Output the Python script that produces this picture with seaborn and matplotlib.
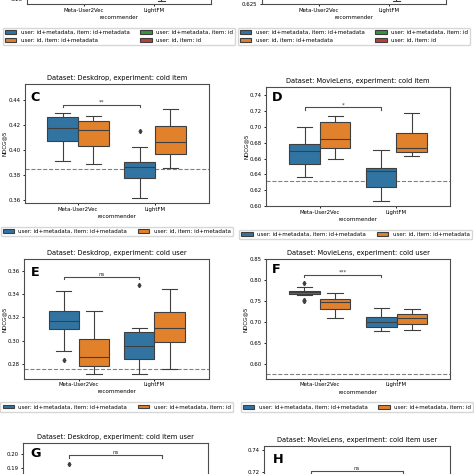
import numpy as np
import pandas as pd
import matplotlib
matplotlib.use("Agg")
import matplotlib.pyplot as plt
from matplotlib.ticker import MultipleLocator
import seaborn as sns

# --- labels ---
RECS = ["Meta-User2Vec", "LightFM"]
UM_IM = "user: id+metadata, item: id+metadata"
U_IM = "user: id, item: id+metadata"
UM_I = "user: id+metadata, item: id"
U_I = "user: id, item: id"
HUES_ALL = [UM_IM, U_IM, UM_I, U_I]

# --- NDCG@5 samples (one list per hue level) ---
# A / B: only the very bottom of these panels is visible
A_META = [[0.232, 0.245, 0.252, 0.260, 0.272], [0.228, 0.240, 0.249, 0.257, 0.268],
          [0.236, 0.247, 0.255, 0.262, 0.274], [0.225, 0.238, 0.246, 0.254, 0.266]]
A_LFM = [[0.215, 0.226, 0.234, 0.242, 0.255], [0.220, 0.232, 0.240, 0.248, 0.260],
         [0.1975, 0.215, 0.224, 0.232, 0.246], [0.212, 0.224, 0.231, 0.240, 0.252]]

B_META = [[0.690, 0.705, 0.713, 0.720, 0.735], [0.685, 0.700, 0.709, 0.717, 0.731],
          [0.692, 0.706, 0.715, 0.722, 0.738], [0.680, 0.697, 0.706, 0.714, 0.728]]
B_LFM = [[0.645, 0.660, 0.668, 0.676, 0.690], [0.655, 0.670, 0.678, 0.686, 0.700],
         [0.6277, 0.648, 0.658, 0.667, 0.683], [0.640, 0.656, 0.665, 0.673, 0.688]]

# C: Deskdrop, cold item
C_HUES = [UM_IM, U_IM]
C_META = [[0.3913, 0.4073, 0.4174, 0.4262, 0.4299],
          [0.3887, 0.4031, 0.4163, 0.4235, 0.4275]]
C_LFM = [[0.3616, 0.3775, 0.3775, 0.3865, 0.3865, 0.3905, 0.3905, 0.4028, 0.4153],
         [0.3860, 0.3969, 0.4067, 0.4195, 0.4326]]
C_BASE = 0.3852

# D: MovieLens, cold item
D_HUES = [UM_IM, U_IM]
D_META = [[0.6365, 0.6526, 0.6694, 0.6779, 0.7000],
          [0.6593, 0.6733, 0.6846, 0.7067, 0.7143]]
D_LFM = [[0.6066, 0.6243, 0.6445, 0.6479, 0.6712],
         [0.6636, 0.6678, 0.6733, 0.6919, 0.7172]]
D_BASE = 0.6323

# E: Deskdrop, cold user
E_HUES = [UM_IM, UM_I]
E_META = [[0.2832, 0.2912, 0.3097, 0.3171, 0.3171, 0.3257, 0.3257, 0.3427, 0.3427],
          [0.2709, 0.2780, 0.2860, 0.3010, 0.3252]]
E_LFM = [[0.2709, 0.2843, 0.2843, 0.2950, 0.2950, 0.3071, 0.3071, 0.3110, 0.3476],
         [0.2752, 0.2990, 0.3105, 0.3248, 0.3444]]
E_BASE = 0.2754

# F: MovieLens, cold user
F_HUES = [UM_IM, UM_I]
F_META = [[0.7505, 0.7526, 0.7635, 0.7676, 0.7676, 0.7708, 0.7708, 0.7708,
           0.7747, 0.7747, 0.7842, 0.7842, 0.7922],
          [0.7107, 0.7313, 0.7479, 0.7557, 0.7699]]
F_LFM = [[0.6784, 0.6879, 0.6997, 0.7131, 0.7329],
         [0.6815, 0.6950, 0.7092, 0.7187, 0.7305]]
F_BASE = 0.5765

# G / H: only the top of these panels is visible
G_META = [[0.150, 0.158, 0.163, 0.168, 0.176],
          [0.148, 0.160, 0.160, 0.166, 0.166, 0.172, 0.172, 0.180, 0.1929],
          [0.152, 0.160, 0.165, 0.171, 0.179], [0.146, 0.155, 0.161, 0.167, 0.175]]
G_LFM = [[0.135, 0.145, 0.151, 0.157, 0.167], [0.138, 0.148, 0.154, 0.160, 0.170],
         [0.140, 0.150, 0.156, 0.162, 0.172], [0.133, 0.143, 0.149, 0.155, 0.165]]

H_META = [[0.672, 0.688, 0.697, 0.705, 0.716], [0.670, 0.685, 0.694, 0.702, 0.7132],
          [0.668, 0.683, 0.692, 0.700, 0.711], [0.660, 0.676, 0.685, 0.693, 0.705]]
H_LFM = [[0.648, 0.662, 0.670, 0.678, 0.690], [0.652, 0.666, 0.674, 0.682, 0.694],
         [0.655, 0.668, 0.676, 0.684, 0.697], [0.645, 0.659, 0.667, 0.675, 0.688]]

W = H = 474
fig = plt.figure(figsize=(W / 100, H / 100), dpi=100)
fig.patch.set_facecolor("white")


def px_axes(left, top, right, bottom):
    return fig.add_axes([left / W, 1 - bottom / H, (right - left) / W, (bottom - top) / H])


def draw_panel(box, letter, letter_xy, title, hues, meta, lfm, xlim, ylim, step,
               base=None, pair=None, sig=None, legend_cx=None, bottom_visible=True):
    ax = px_axes(*box)
    rows = []
    for rec, groups in zip(RECS, [meta, lfm]):
        for hue, vals in zip(hues, groups):
            for v in vals:
                rows.append({"recommender": rec, "setting": hue, "NDCG@5": v})
    df = pd.DataFrame(rows)
    sns.boxplot(data=df, x="recommender", y="NDCG@5", hue="setting",
                order=RECS, hue_order=hues,
                palette=sns.color_palette("tab10", len(hues)),
                saturation=0.75, width=0.8, linewidth=0.8,
                flierprops=dict(marker="d", markersize=2.2,
                                markerfacecolor="0.25", markeredgecolor="0.25"),
                legend=bottom_visible, ax=ax)
    ax.set_xlim(*xlim)
    ax.set_ylim(*ylim)
    ax.yaxis.set_major_locator(MultipleLocator(step))

    if base is not None:
        ax.axhline(base, ls="--", color="0.5", lw=0.8, zorder=0.5)

    # significance bracket (statannot-like)
    n = len(hues)
    offs = [-0.4 + (i + 0.5) * 0.8 / n for i in range(n)]
    if pair is not None:
        (r1, h1), (r2, h2) = pair
        x1 = RECS.index(r1) + offs[hues.index(h1)]
        x2 = RECS.index(r2) + offs[hues.index(h2)]
        ymax = -np.inf
        for ri, groups in enumerate([meta, lfm]):
            for hi, vals in enumerate(groups):
                x = ri + offs[hi]
                if x1 - 1e-9 <= x <= x2 + 1e-9:
                    ymax = max(ymax, max(vals))
        rng = ylim[1] - ylim[0]
        y = ymax + 0.05 * rng
        h = 0.02 * rng
        ax.plot([x1, x1, x2, x2], [y, y + h, y + h, y], color="0.3", lw=0.8)
        ax.text((x1 + x2) / 2, y + h, sig, ha="center", va="bottom", fontsize=4,
                color="0.2")

    if title:
        ax.set_title(title, fontsize=4.8, pad=3)
    ax.set_ylabel("NDCG@5" if title else "", fontsize=4, labelpad=0.8)
    ax.tick_params(axis="both", labelsize=3.9, length=1.5, width=0.6)
    ax.tick_params(axis="x", pad=1)
    ax.tick_params(axis="y", pad=1.8)
    for sp in ax.spines.values():
        sp.set_linewidth(0.8)
        sp.set_color("0.3")

    if bottom_visible:
        ax.set_xlabel("recommender", fontsize=4, labelpad=1.5)
        # legend below the axes, boxed, two columns
        old = ax.get_legend()
        handles = old.legend_handles
        labels = [t.get_text() for t in old.texts]
        old.remove()
        cx = legend_cx if legend_cx is not None else (box[0] + box[2]) / 2
        ax.legend(handles, labels, loc="upper center",
                  bbox_to_anchor=(cx / W, 1 - (box[3] + 20.7) / H),
                  bbox_transform=fig.transFigure, ncol=2, fontsize=4,
                  frameon=True, borderpad=0.4, handlelength=2.0, columnspacing=2.0)
    else:
        ax.set_xlabel("")
        ax.set_xticklabels([])

    if letter:
        fig.text(letter_xy[0] / W, 1 - letter_xy[1] / H, letter, fontsize=9.2,
                 fontweight="bold", ha="left", va="top")
    return ax


draw_panel((27, -116, 211, 4.3), None, None, None, HUES_ALL, A_META, A_LFM,
           (-0.8, 1.8), (0.195, 0.30), 0.02)
draw_panel((262, -116, 446, 4.3), None, None, None, HUES_ALL, B_META, B_LFM,
           (-0.8, 1.8), (0.6245, 0.76), 0.025)

draw_panel((25, 84.3, 208.7, 203.3), "C", (30.7, 91.2),
           "Dataset: Deskdrop, experiment: cold item", C_HUES, C_META, C_LFM,
           (-0.69, 1.7), (0.3574, 0.4528), 0.02, C_BASE,
           ((RECS[0], UM_IM), (RECS[1], UM_IM)), "**")
draw_panel((266.3, 86.7, 450, 206.3), "D", (272, 91.2),
           "Dataset: MovieLens, experiment: cold item", D_HUES, D_META, D_LFM,
           (-0.7, 1.7), (0.5997, 0.751), 0.02, D_BASE,
           ((RECS[0], UM_IM), (RECS[1], UM_IM)), "*", legend_cx=355.5)
draw_panel((24.3, 259.3, 209, 378.7), "E", (30.7, 266.2),
           "Dataset: Deskdrop, experiment: cold user", E_HUES, E_META, E_LFM,
           (-0.72, 1.72), (0.2671, 0.370), 0.02, E_BASE,
           ((RECS[0], UM_IM), (RECS[1], UM_IM)), "ns")
draw_panel((266, 259, 450.3, 379), "F", (272, 263),
           "Dataset: MovieLens, experiment: cold user", F_HUES, F_META, F_LFM,
           (-0.7, 1.7), (0.5654, 0.85), 0.05, F_BASE,
           ((RECS[0], UM_IM), (RECS[1], UM_IM)), "***", legend_cx=357)
draw_panel((23.3, 442.7, 207.7, 570.1), "G", (30, 446.8),
           "Dataset: Deskdrop, experiment: cold item user", HUES_ALL, G_META, G_LFM,
           (-0.7, 1.7), (0.1173, 0.2083), 0.01, None,
           ((RECS[0], U_IM), (RECS[1], UM_I)), "ns", bottom_visible=False)
draw_panel((264.3, 446, 449.6, 566), "H", (273.3, 452.8),
           "Dataset: MovieLens, experiment: cold item user", HUES_ALL, H_META, H_LFM,
           (-0.7, 1.7), (0.6331, 0.7437), 0.02, None,
           ((RECS[0], U_IM), (RECS[1], UM_I)), "ns", bottom_visible=False)

fig.savefig("out.png", dpi=100, facecolor="white")
